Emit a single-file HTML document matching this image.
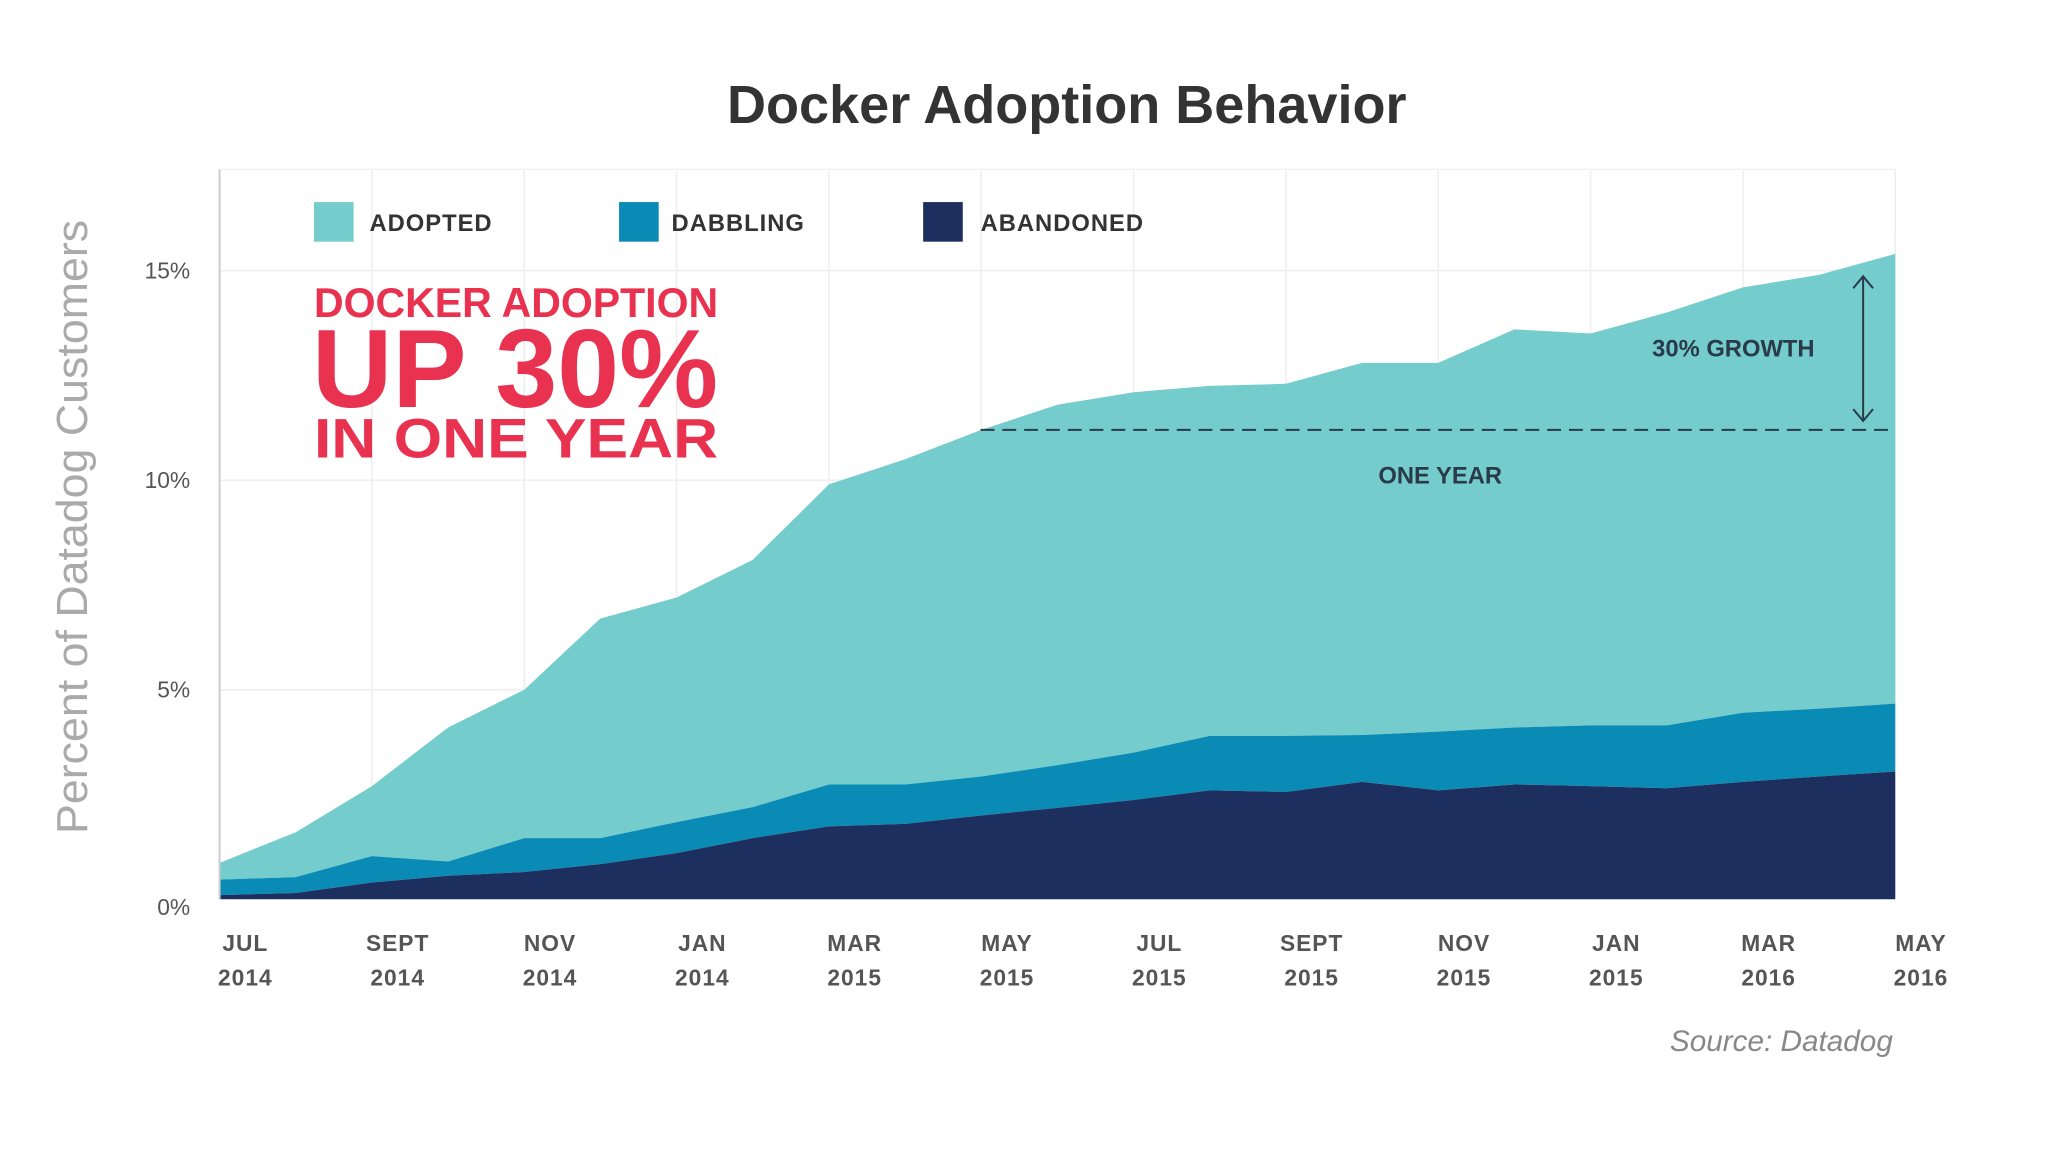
<!DOCTYPE html>
<html><head><meta charset="utf-8"><style>
html,body{margin:0;padding:0;background:#fff;width:2048px;height:1152px;overflow:hidden}
text{font-family:"Liberation Sans",sans-serif}
</style></head><body>
<svg id="chart" width="2048" height="1152" viewBox="0 0 2048 1152" xmlns="http://www.w3.org/2000/svg">
<g transform="scale(0.9905)">
<text x="1077" y="124" text-anchor="middle" font-size="54" fill="#333" font-weight="bold" textLength="686" lengthAdjust="spacingAndGlyphs">Docker Adoption Behavior</text>
<g id="grid"></g>
<g id="areas"></g>
<g id="axes"></g>
<g>
<rect x="317" y="204" width="40" height="40" fill="#75cccc"/>
<text x="373" y="233" font-size="24" font-weight="bold" fill="#333" letter-spacing="1">ADOPTED</text>
<rect x="625" y="204" width="40" height="40" fill="#0a8bb5"/>
<text x="678" y="233" font-size="24" font-weight="bold" fill="#333" letter-spacing="1">DABBLING</text>
<rect x="932" y="204" width="40" height="40" fill="#1d2f5e"/>
<text x="990" y="233" font-size="24" font-weight="bold" fill="#333" letter-spacing="1">ABANDONED</text>
</g>
<g fill="#e8324f" font-weight="bold">
<text x="317" y="320" font-size="42" textLength="408" lengthAdjust="spacingAndGlyphs">DOCKER ADOPTION</text>
<text x="315" y="411" font-size="112" textLength="410" lengthAdjust="spacingAndGlyphs">UP 30%</text>
<text x="317" y="462" font-size="56" textLength="408" lengthAdjust="spacingAndGlyphs">IN ONE YEAR</text>
</g>
<line x1="990" y1="434" x2="1913" y2="434" stroke="#2a3a4a" stroke-width="2" stroke-dasharray="14,8"/>
<text x="1454" y="488" text-anchor="middle" font-size="24" font-weight="bold" fill="#2a3a4a">ONE YEAR</text>
<text x="1750" y="360" text-anchor="middle" font-size="24" font-weight="bold" fill="#2a3a4a">30% GROWTH</text>
<g stroke="#2a3a4a" stroke-width="2" fill="none">
<line x1="1881" y1="279" x2="1881" y2="425"/>
<polyline points="1871,291 1881,279 1891,291"/>
<polyline points="1871,413 1881,425 1891,413"/>
</g>
<text transform="translate(88,532) rotate(-90)" text-anchor="middle" font-size="44" fill="#aaa" textLength="620" lengthAdjust="spacingAndGlyphs">Percent of Datadog Customers</text>
<text x="1911" y="1061" text-anchor="end" font-size="30" font-style="italic" fill="#888">Source: Datadog</text>
</g>
</svg>
<script>
const xLabelsTop = ["JUL","SEPT","NOV","JAN","MAR","MAY","JUL","SEPT","NOV","JAN","MAR","MAY"];
const xLabelsBottom = ["2014","2014","2014","2014","2015","2015","2015","2015","2015","2015","2016","2016"];
const yTicks = [0,5,10,15];
const yTickLabels = ["0%","5%","10%","15%"];
const abandoned = [0.1,0.15,0.4,0.56,0.65,0.84,1.1,1.46,1.74,1.8,2.0,2.18,2.37,2.6,2.56,2.8,2.6,2.74,2.7,2.65,2.8,2.93,3.05];
const dabbling = [0.37,0.38,0.63,0.34,0.81,0.62,0.74,0.74,1.0,0.94,0.93,1.02,1.13,1.3,1.34,1.12,1.4,1.36,1.45,1.5,1.65,1.62,1.62];
const adopted = [0.4,1.07,1.67,3.2,3.54,5.24,5.36,5.9,7.16,7.76,8.27,8.6,8.6,8.35,8.4,8.88,8.8,9.5,9.35,9.85,10.15,10.35,10.73];

const NS="http://www.w3.org/2000/svg";
const L=221.7,R=1913.4,Y0=907.9,PPU=42.31,TOP=171;
const n=abandoned.length;
const xs=i=>L+(R-L)*i/(n-1);
const ys=v=>Y0-v*PPU;
const xTick=i=>L+(R-L)*i/(xLabelsTop.length-1);
function mk(tag,attrs,parent){const e=document.createElementNS(NS,tag);for(const k in attrs)e.setAttribute(k,attrs[k]);parent.appendChild(e);return e;}
const grid=document.getElementById('grid'),areas=document.getElementById('areas'),axes=document.getElementById('axes');
for(let i=0;i<xLabelsTop.length;i++){
  const g=mk('line',{x1:xTick(i),x2:xTick(i),y1:TOP,y2:Y0,stroke:'#eeeeee','stroke-width':1.5},grid);
  
  
  const cx=xTick(i)+26;
  const t=mk('text',{x:cx,y:960,'text-anchor':'middle','font-size':23,'font-weight':'bold',fill:'#555','letter-spacing':1},axes);
  t.textContent=xLabelsTop[i];
  
  
  const t2=mk('text',{x:cx,y:995,'text-anchor':'middle','font-size':23,'font-weight':'bold',fill:'#555','letter-spacing':1},axes);
  t2.textContent=xLabelsBottom[i];
  
  
}
mk('line',{x1:L,x2:R,y1:TOP,y2:TOP,stroke:'#f2f2f2','stroke-width':1.5},grid);
yTicks.forEach((v,i)=>{
  if(v>0){const g=mk('line',{x1:L,x2:R,y1:ys(v),y2:ys(v),stroke:'#eeeeee','stroke-width':1.5},grid);
  
  }
  const t=mk('text',{x:192,y:ys(v)+(v===0?16:8),'text-anchor':'end','font-size':23,fill:'#555'},axes);
  t.textContent=yTickLabels[i];
  
  
});
const s1=abandoned.map(v=>v),s2=abandoned.map((v,i)=>v+dabbling[i]),s3=s2.map((v,i)=>v+adopted[i]);
function area(top,bot,fill,name){
  let d='M'+xs(0)+','+ys(top[0]);
  for(let i=1;i<n;i++)d+=' L'+xs(i)+','+ys(top[i]);
  for(let i=n-1;i>=0;i--)d+=' L'+xs(i)+','+ys(bot?bot[i]:0);
  const p=mk('path',{d:d+'Z',fill:fill},areas);
  
  
}
area(s3,s2,'#75cccc','adopted-area');
area(s2,s1,'#0a8bb5','dabbling-area');
area(s1,null,'#1d2f5e','abandoned-area');
const ax=mk('line',{x1:L,x2:L,y1:TOP,y2:Y0,stroke:'#cccccc','stroke-width':2},axes);


</script>
</body></html>
